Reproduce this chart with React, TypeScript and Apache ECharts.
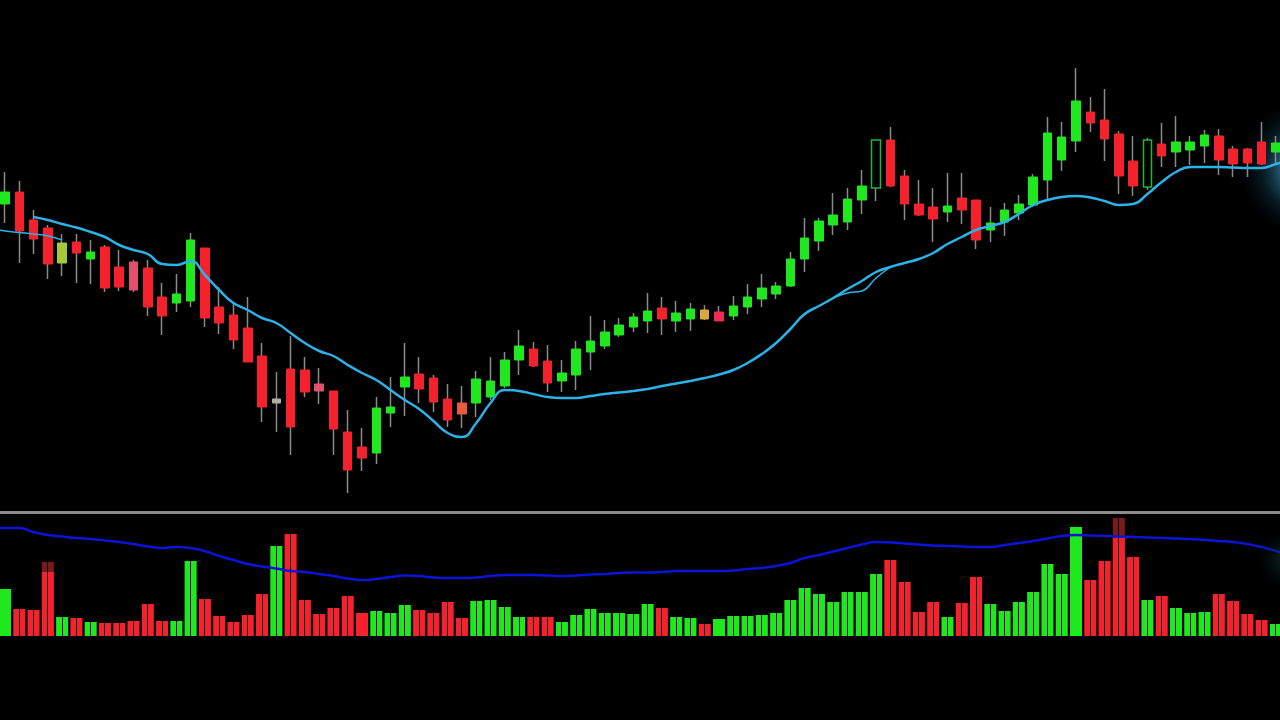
import React, { useEffect, useRef } from 'react';
import * as echarts from 'echarts';

// one entry per session, values are in the chart's own axis units (price 0-500, volume 0-124)
const sessions = Array.from({ length: 92 }, (_, i) => `S${i + 1}`);

const opens = [275, 296, 308, 280, 272, 237, 258, 241, 253, 233, 238, 232, 203, 197, 199, 252, 193, 185, 172, 144, 101, 131, 130, 116, 109, 68, 53, 47, 87, 113, 126, 122, 101, 97, 97, 103, 114, 140, 151, 139, 119, 125, 148, 154, 165, 173, 179, 192, 179, 181, 181, 188, 184, 193, 201, 206, 214, 241, 259, 275, 278, 300, 312, 360, 324, 296, 293, 288, 302, 300, 270, 278, 287, 295, 320, 340, 359, 388, 380, 366, 339, 313, 356, 348, 350, 354, 364, 351, 351, 358, 348, 357];
const closes = [290, 308, 269, 261, 236, 257, 247, 248, 212, 213, 210, 193, 184, 206, 260, 182, 177, 160, 138, 93, 97, 73, 108, 109, 71, 30, 42, 92, 93, 123, 111, 98, 80, 86, 121, 119, 140, 154, 134, 117, 127, 151, 159, 168, 175, 183, 189, 181, 187, 191, 190, 179, 194, 203, 212, 214, 241, 262, 279, 285, 301, 314, 360, 314, 296, 285, 281, 294, 290, 260, 277, 290, 296, 323, 367, 363, 399, 377, 361, 324, 314, 360, 344, 358, 358, 365, 340, 336, 337, 336, 357, 366];
const lows = [265, 277, 237, 246, 221, 224, 217, 216, 208, 209, 208, 184, 165, 188, 193, 173, 166, 151, 138, 78, 68, 45, 103, 96, 45, 7, 29, 36, 73, 84, 97, 88, 73, 72, 83, 100, 112, 125, 133, 108, 108, 110, 130, 151, 163, 168, 167, 165, 168, 169, 180, 179, 180, 186, 193, 201, 213, 228, 249, 265, 270, 286, 299, 313, 280, 284, 258, 278, 276, 251, 258, 264, 280, 293, 301, 329, 348, 368, 339, 306, 304, 310, 333, 333, 335, 337, 325, 323, 323, 335, 337, 350];
const highs = [300, 328, 319, 290, 275, 266, 266, 260, 255, 250, 240, 240, 217, 226, 267, 252, 213, 198, 203, 157, 128, 164, 143, 132, 109, 90, 72, 103, 123, 157, 143, 125, 116, 114, 129, 143, 148, 170, 158, 155, 140, 159, 184, 180, 182, 187, 207, 203, 199, 197, 195, 194, 204, 216, 226, 218, 248, 282, 282, 307, 312, 330, 360, 373, 330, 320, 312, 327, 327, 300, 293, 297, 305, 326, 383, 378, 432, 403, 411, 369, 364, 362, 377, 384, 364, 370, 371, 354, 352, 378, 364, 370];

const priceMa = [null, null, null, 283, 280, 276, 272.5, 268, 263, 255, 250, 246, 236, 235, 239, 225, 210, 197, 190, 182, 177, 167, 157, 149, 144, 135, 127, 120, 110, 100, 91, 79, 67, 63, 77, 97, 110, 109, 106, 103, 102, 102, 104, 106, 107.5, 109, 111, 114, 116.5, 119, 122, 125.5, 130, 137, 146, 157, 171, 186, 194, 202, 211, 219, 228, 233, 237, 241, 247, 256, 263, 270, 274, 278, 286, 295, 300, 303, 304, 302.5, 299, 295, 296, 306, 318, 328, 333, 333, 333, 332.5, 332, 332, 336, 340];
// older line still showing through where the video cross-fades
const priceMaFade = [271, 269, 267.5, 266, 264, 260, ...Array(53).fill(null), 202, 207, 209, 222, 233, ...Array(28).fill(null)];

const volumes = [40, 47, 27, 26, 64, 19, 18, 14, 13, 13, 15, 32, 15, 15, 75, 37, 20, 14, 21, 42, 90, 102, 36, 22, 28, 40, 23, 25, 23, 31, 26, 23, 34, 18, 35, 36, 29, 19, 19, 19, 14, 21, 27, 23, 23, 22, 32, 28, 19, 18, 12, 17, 20, 20, 21, 23, 36, 48, 42, 34, 44, 44, 62, 76, 54, 24, 34, 19, 33, 59, 32, 25, 34, 44, 72, 62, 109, 56, 75, 98, 79, 36, 40, 28, 23, 24, 42, 35, 22, 16, 12, 12];
const volumeSides = 'uu ddd u d u ddddd uu ddddd u dddddd uuu dddd uuuu dd uuuuuuu d uu d uuuuuuuuuuuu dddd u dd uuuuuuu dddd u d uuu dddd uu'.replace(/ /g, '').split('');
const volumeMa = [108, 108, 108, 104, 101, 99.5, 98, 97, 95.5, 94, 92, 89.5, 88, 89, 88, 85, 80, 76, 72, 69.5, 67.5, 65, 64, 62, 60, 57.5, 56, 57, 59, 60.5, 60, 58.5, 58, 58, 58.5, 60, 61, 61, 61, 60.5, 60, 60.5, 61.5, 62, 63, 63.5, 63.5, 64, 65, 65, 65, 65, 65.5, 67, 68, 70, 73, 78, 81, 84.5, 88, 91.5, 94, 93.5, 92.5, 91.5, 90.5, 90, 89.5, 89, 89, 91, 93, 95, 97.5, 100, 101, 100.5, 100, 99.5, 99, 98.5, 98, 97.5, 97, 96, 95, 94, 92, 89, 85, 81];
// dim caps above two of the volume bars: [session index, height]
const volumeCaps = [[4, 74], [79, 118]];

const hollowBars = [62, 81];
const dojiBars = [20];
const blendedBars: Record<number, string> = { 5: '#a3c83a', 10: '#e2506e', 23: '#e2506e', 33: '#ea5a3c', 50: '#d8a83e', 51: '#ee2a55' };

const GREEN = '#1fe81f';
const RED = '#f5222d';
const WICK = '#8a8a8a';
const BAND = 14.28;

const striped = (c: string) =>
    new echarts.graphic.LinearGradient(0, 0, 1, 0, [
        { offset: 0, color: c },
        { offset: 0.46, color: c },
        { offset: 0.46, color: 'rgba(0,0,0,0.55)' },
        { offset: 0.54, color: 'rgba(0,0,0,0.55)' },
        { offset: 0.54, color: c },
        { offset: 1, color: c },
    ]);

const App: React.FC = () => {
    const chartRef = useRef<HTMLDivElement | null>(null);

    useEffect(() => {
        document.body.style.margin = '0';
        document.body.style.background = '#000';
        if (chartRef.current) {
            const chartInstance = echarts.init(chartRef.current, undefined, { renderer: 'svg' });

            const wicks = sessions.map((_, i) => [opens[i], closes[i], lows[i], highs[i]]);
            const bodies = sessions.map((_, i) => {
                const o = opens[i];
                const c = closes[i];
                const value = [o, c, Math.min(o, c), Math.max(o, c)];
                if (hollowBars.includes(i)) {
                    return { value, itemStyle: { color: '#000', color0: '#000', borderColor: '#27b53a', borderColor0: '#27b53a', borderWidth: 1.5 } };
                }
                if (dojiBars.includes(i)) {
                    return { value, itemStyle: { color: '#b5ad9c', color0: '#b5ad9c', borderColor: '#b5ad9c', borderColor0: '#b5ad9c' } };
                }
                if (blendedBars[i]) {
                    const b = blendedBars[i];
                    return { value, itemStyle: { color: b, color0: b, borderColor: b, borderColor0: b } };
                }
                return value;
            });
            const volumeBars = volumes.map((v, i) => ({
                value: v,
                itemStyle: { color: striped(volumeSides[i] === 'u' ? GREEN : RED) },
            }));
            const capBars = sessions.map((_, i) => {
                const cap = volumeCaps.find((c) => c[0] === i);
                return cap ? cap[1] : null;
            });

            const option = {
                animation: false,
                backgroundColor: '#000',
                tooltip: { show: false },
                grid: [
                    { left: -16.42, top: 0, width: BAND * sessions.length, height: 500, outerBoundsMode: 'none' },
                    { left: -16.42, top: 512, width: BAND * sessions.length, height: 124, outerBoundsMode: 'none' },
                ],
                xAxis: [
                    { type: 'category', gridIndex: 0, data: sessions, show: false },
                    {
                        type: 'category',
                        gridIndex: 1,
                        data: sessions,
                        position: 'top',
                        axisLine: { show: true, onZero: false, lineStyle: { color: '#8c8c8c', width: 3 } },
                        axisTick: { show: false },
                        axisLabel: { show: false },
                    },
                ],
                yAxis: [
                    { type: 'value', gridIndex: 0, min: 0, max: 500, show: false },
                    { type: 'value', gridIndex: 1, min: 0, max: 124, show: false },
                ],
                series: [
                    {
                        name: 'Wicks',
                        type: 'candlestick',
                        xAxisIndex: 0,
                        yAxisIndex: 0,
                        barWidth: 1,
                        data: wicks,
                        z: 2,
                        itemStyle: { color: WICK, color0: WICK, borderColor: WICK, borderColor0: WICK, borderWidth: 1.5 },
                    },
                    {
                        name: 'Bodies',
                        type: 'candlestick',
                        xAxisIndex: 0,
                        yAxisIndex: 0,
                        barWidth: 9,
                        data: bodies,
                        z: 3,
                        itemStyle: { color: GREEN, color0: RED, borderColor: GREEN, borderColor0: RED, borderWidth: 1 },
                    },
                    {
                        name: 'MA',
                        type: 'line',
                        xAxisIndex: 0,
                        yAxisIndex: 0,
                        data: priceMa,
                        smooth: 0.5,
                        showSymbol: false,
                        z: 4,
                        lineStyle: { color: '#2bb2e8', width: 2.5 },
                    },
                    {
                        name: 'MA fade',
                        type: 'line',
                        xAxisIndex: 0,
                        yAxisIndex: 0,
                        data: priceMaFade,
                        smooth: 0.5,
                        showSymbol: false,
                        z: 4,
                        lineStyle: { color: '#2bb2e8', width: 1.5 },
                    },
                    {
                        name: 'Volume cap',
                        type: 'bar',
                        xAxisIndex: 1,
                        yAxisIndex: 1,
                        barWidth: 12,
                        barGap: '-100%',
                        data: capBars,
                        itemStyle: { color: striped('#7a1a1c') },
                    },
                    {
                        name: 'Volume',
                        type: 'bar',
                        xAxisIndex: 1,
                        yAxisIndex: 1,
                        barWidth: 12,
                        barGap: '-100%',
                        data: volumeBars,
                    },
                    {
                        name: 'Volume MA',
                        type: 'line',
                        xAxisIndex: 1,
                        yAxisIndex: 1,
                        data: volumeMa,
                        smooth: 0.5,
                        showSymbol: false,
                        z: 4,
                        lineStyle: { color: '#0a14d8', width: 2.5 },
                    },
                ],
                // the lens glow at the right edge of the picture, under the candles
                graphic: [
                    {
                        type: 'circle',
                        z: 1,
                        silent: true,
                        shape: { cx: 1310, cy: 168, r: 70 },
                        style: {
                            fill: new echarts.graphic.RadialGradient(0.5, 0.5, 0.5, [
                                { offset: 0, color: 'rgba(110,200,230,1)' },
                                { offset: 0.43, color: 'rgba(45,115,145,0.75)' },
                                { offset: 0.7, color: 'rgba(15,60,80,0.4)' },
                                { offset: 1, color: 'rgba(0,30,45,0)' },
                            ]),
                        },
                    },
                    {
                        type: 'circle',
                        z: 10,
                        silent: true,
                        shape: { cx: 1288, cy: 560, r: 32 },
                        style: {
                            fill: new echarts.graphic.RadialGradient(0.5, 0.5, 0.5, [
                                { offset: 0, color: 'rgba(40,70,70,0.6)' },
                                { offset: 1, color: 'rgba(0,20,20,0)' },
                            ]),
                        },
                    },
                ],
            };

            chartInstance.setOption(option as any);

            return () => {
                chartInstance.dispose();
            };
        }
    }, []);

    return <div ref={chartRef} style={{ width: '1280px', height: '720px' }} />;
};

export default App;
